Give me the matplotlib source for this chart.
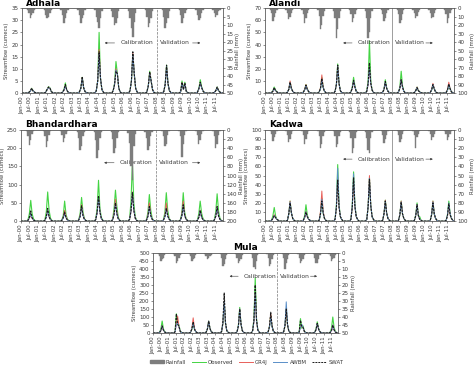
import matplotlib
matplotlib.use('Agg')
import matplotlib.pyplot as plt
from matplotlib.lines import Line2D
from matplotlib.patches import Patch
import numpy as np

plt.rcParams['font.family'] = ['DejaVu Sans']

# ── data: monthly streamflow, Jun..Nov per year 2000-2011 (other months ~0) ──
years = list(range(2000, 2012))
tick_labels = [f'{m}-{y % 100:02d}' for y in years for m in ('Jan', 'Jul')]

adhala_obs  = [[0.3, 0.8, 2.0, 1.0, 0.4, 0.1], [0.4, 1.5, 2.6, 2.2, 0.6, 0.2], [0.4, 1.5, 4.2, 1.2, 0.4, 0.1],
               [0.5, 2.0, 6.5, 2.2, 0.6, 0.2], [1.0, 5.0, 25.0, 6.0, 1.5, 0.4], [1.0, 4.0, 13.0, 8.0, 2.0, 0.5],
               [1.0, 5.0, 16.0, 8.0, 2.0, 0.5], [0.5, 3.0, 9.0, 5.0, 1.5, 0.3], [0.6, 3.5, 11.5, 4.0, 1.0, 0.3],
               [0.5, 5.0, 1.5, 4.5, 0.8, 0.2], [0.4, 2.0, 5.5, 2.5, 0.8, 0.2], [0.3, 1.0, 2.5, 1.0, 0.4, 0.1]]
adhala_gr4j = [[0.3, 0.8, 1.9, 0.9, 0.4, 0.1], [0.4, 1.4, 2.4, 2.0, 0.6, 0.2], [0.4, 1.2, 3.2, 1.2, 0.4, 0.1],
               [0.5, 2.0, 6.3, 2.2, 0.6, 0.2], [1.0, 5.0, 18.0, 6.0, 1.5, 0.4], [1.0, 3.5, 10.0, 8.0, 2.0, 0.5],
               [1.0, 5.0, 16.5, 8.0, 2.0, 0.5], [0.5, 3.0, 8.5, 5.0, 1.5, 0.3], [0.6, 3.5, 11.0, 4.0, 1.0, 0.3],
               [0.5, 4.2, 1.5, 4.0, 0.8, 0.2], [0.4, 1.8, 4.2, 2.2, 0.8, 0.2], [0.3, 1.0, 2.3, 1.0, 0.4, 0.1]]
adhala_awbm = [[0.3, 0.7, 1.8, 0.9, 0.4, 0.1], [0.4, 1.4, 2.3, 2.0, 0.6, 0.2], [0.4, 1.2, 3.0, 1.2, 0.4, 0.1],
               [0.5, 2.0, 6.0, 2.2, 0.6, 0.2], [1.0, 5.0, 16.0, 6.0, 1.5, 0.4], [1.0, 3.5, 9.5, 8.0, 2.0, 0.5],
               [1.0, 5.0, 16.0, 8.0, 2.0, 0.5], [0.5, 3.0, 8.0, 5.0, 1.5, 0.3], [0.6, 3.5, 11.0, 4.0, 1.0, 0.3],
               [0.5, 4.0, 1.5, 4.0, 0.8, 0.2], [0.4, 1.8, 4.0, 2.2, 0.8, 0.2], [0.3, 1.0, 2.2, 1.0, 0.4, 0.1]]
adhala_swat = [[0.3, 0.8, 2.0, 0.9, 0.4, 0.1], [0.4, 1.5, 2.5, 2.1, 0.6, 0.2], [0.4, 1.3, 3.5, 1.2, 0.4, 0.1],
               [0.5, 2.0, 6.8, 2.2, 0.6, 0.2], [1.0, 5.0, 17.0, 6.0, 1.5, 0.4], [1.0, 3.5, 9.0, 8.0, 2.0, 0.5],
               [1.0, 5.0, 17.0, 8.0, 2.0, 0.5], [0.5, 3.0, 8.8, 5.0, 1.5, 0.3], [0.6, 3.5, 11.5, 4.0, 1.0, 0.3],
               [0.5, 4.5, 1.5, 4.2, 0.8, 0.2], [0.4, 1.8, 4.5, 2.2, 0.8, 0.2], [0.3, 1.0, 2.5, 1.0, 0.4, 0.1]]

alandi_obs  = [[0.5, 2.0, 5.0, 2.5, 1.0, 0.3], [0.8, 3.0, 9.0, 4.0, 1.5, 0.4], [0.8, 3.0, 7.0, 3.5, 1.2, 0.3],
               [1.0, 4.0, 13.0, 5.0, 1.5, 0.4], [1.5, 7.0, 24.0, 8.0, 2.0, 0.5], [1.0, 5.0, 13.0, 6.0, 1.5, 0.4],
               [2.0, 10.0, 43.0, 10.0, 2.5, 0.6], [0.8, 3.0, 11.0, 4.5, 1.5, 0.4], [1.0, 5.0, 18.0, 6.0, 1.5, 0.4],
               [0.5, 2.0, 5.0, 2.0, 1.0, 0.3], [0.6, 2.5, 7.0, 3.5, 1.0, 0.3], [0.6, 2.5, 7.0, 3.5, 1.0, 0.3]]
alandi_gr4j = [[0.5, 1.5, 4.0, 2.0, 1.0, 0.3], [0.8, 3.0, 10.0, 4.0, 1.5, 0.4], [0.8, 3.0, 7.0, 3.5, 1.2, 0.3],
               [1.0, 4.5, 15.0, 5.0, 1.5, 0.4], [1.5, 7.0, 22.0, 8.0, 2.0, 0.5], [1.0, 4.0, 10.0, 5.0, 1.5, 0.4],
               [1.5, 7.0, 20.0, 8.0, 2.5, 0.6], [0.8, 3.0, 9.0, 4.0, 1.5, 0.4], [1.0, 4.0, 11.0, 5.0, 1.5, 0.4],
               [0.5, 2.0, 5.0, 2.0, 1.0, 0.3], [0.6, 3.0, 8.0, 3.5, 1.0, 0.3], [0.6, 3.0, 9.0, 3.5, 1.0, 0.3]]
alandi_awbm = [[0.5, 1.5, 4.0, 2.0, 1.0, 0.3], [0.8, 3.0, 8.5, 3.5, 1.5, 0.4], [0.8, 2.5, 6.0, 3.0, 1.2, 0.3],
               [1.0, 3.5, 11.0, 4.5, 1.5, 0.4], [1.5, 7.0, 22.0, 8.0, 2.0, 0.5], [1.0, 4.0, 10.0, 5.0, 1.5, 0.4],
               [1.5, 7.0, 21.0, 8.0, 2.5, 0.6], [0.8, 3.0, 9.0, 4.0, 1.5, 0.4], [1.0, 4.0, 11.0, 5.0, 1.5, 0.4],
               [0.5, 2.0, 4.5, 2.0, 1.0, 0.3], [0.6, 2.5, 7.0, 3.5, 1.0, 0.3], [0.6, 2.5, 7.0, 3.5, 1.0, 0.3]]
alandi_swat = [[0.5, 1.5, 4.5, 2.0, 1.0, 0.3], [0.8, 3.0, 9.0, 3.5, 1.5, 0.4], [0.8, 2.5, 6.5, 3.0, 1.2, 0.3],
               [1.0, 4.0, 12.0, 4.5, 1.5, 0.4], [1.5, 7.0, 23.0, 8.0, 2.0, 0.5], [1.0, 4.0, 10.5, 5.0, 1.5, 0.4],
               [1.5, 8.0, 25.0, 8.0, 2.5, 0.6], [0.8, 3.0, 9.5, 4.0, 1.5, 0.4], [1.0, 4.0, 11.0, 5.0, 1.5, 0.4],
               [0.5, 2.0, 4.5, 2.0, 1.0, 0.3], [0.6, 2.5, 7.0, 3.5, 1.0, 0.3], [0.6, 2.5, 7.5, 3.5, 1.0, 0.3]]

bhand_obs  = [[3, 20, 57, 20, 6, 2], [4, 25, 80, 30, 8, 2], [3, 15, 55, 18, 5, 2],
              [4, 22, 65, 25, 7, 2], [5, 35, 112, 35, 10, 3], [5, 35, 85, 40, 10, 3],
              [6, 55, 160, 50, 12, 3], [4, 25, 73, 30, 8, 2], [4, 25, 78, 30, 8, 2],
              [4, 22, 78, 25, 7, 2], [3, 20, 55, 22, 7, 2], [4, 25, 75, 28, 8, 2]]
bhand_gr4j = [[2, 8, 15, 8, 3, 1], [2, 12, 30, 12, 4, 1], [2, 10, 30, 12, 4, 1],
              [3, 15, 45, 18, 5, 2], [4, 22, 65, 25, 7, 2], [4, 22, 60, 25, 7, 2],
              [5, 28, 80, 30, 8, 2], [3, 16, 50, 18, 5, 2], [3, 16, 50, 18, 5, 2],
              [3, 16, 55, 18, 5, 2], [2, 10, 30, 12, 4, 1], [3, 13, 40, 15, 5, 1]]
bhand_awbm = [[2, 8, 20, 8, 3, 1], [2, 10, 30, 12, 4, 1], [2, 8, 20, 9, 3, 1],
              [3, 13, 40, 15, 5, 2], [4, 22, 65, 25, 7, 2], [4, 17, 50, 20, 6, 2],
              [5, 27, 78, 30, 8, 2], [3, 13, 40, 15, 5, 2], [3, 12, 35, 14, 5, 2],
              [3, 13, 42, 15, 5, 2], [2, 10, 28, 11, 4, 1], [3, 13, 38, 14, 5, 1]]
bhand_swat = [[2, 10, 28, 9, 3, 1], [2, 12, 35, 12, 4, 1], [2, 10, 25, 9, 3, 1],
              [3, 13, 42, 15, 5, 2], [4, 24, 70, 25, 7, 2], [4, 17, 50, 20, 6, 2],
              [5, 27, 78, 30, 8, 2], [3, 13, 40, 15, 5, 2], [3, 12, 35, 14, 5, 2],
              [3, 15, 45, 16, 5, 2], [2, 10, 30, 11, 4, 1], [3, 13, 40, 14, 5, 1]]

kadwa_obs  = [[1, 6, 15, 6, 2, 1], [1, 8, 22, 9, 3, 1], [1, 6, 18, 7, 2, 1],
              [1, 9, 25, 9, 3, 1], [2, 17, 62, 18, 5, 2], [2, 17, 54, 18, 5, 2],
              [2, 16, 47, 17, 5, 2], [1, 8, 23, 9, 3, 1], [1, 7, 22, 8, 3, 1],
              [1, 7, 20, 6, 5, 1], [1, 7, 22, 8, 3, 1], [1, 7, 22, 8, 3, 1]]
kadwa_gr4j = [[1, 3, 7, 4, 2, 1], [1, 8, 22, 9, 3, 1], [1, 4, 10, 5, 2, 1],
              [1, 11, 33, 11, 3, 1], [2, 15, 48, 16, 5, 2], [2, 15, 45, 16, 5, 2],
              [2, 16, 50, 17, 5, 2], [1, 8, 23, 9, 3, 1], [1, 7, 22, 8, 3, 1],
              [1, 6, 18, 6, 2, 1], [1, 7, 22, 8, 3, 1], [1, 6, 18, 7, 3, 1]]
kadwa_awbm = [[1, 3, 6, 4, 2, 1], [1, 8, 21, 9, 3, 1], [1, 4, 10, 5, 2, 1],
              [1, 8, 24, 9, 3, 1], [2, 16, 58, 17, 5, 2], [2, 16, 52, 17, 5, 2],
              [2, 16, 47, 17, 5, 2], [1, 8, 22, 9, 3, 1], [1, 7, 21, 8, 3, 1],
              [1, 6, 18, 6, 2, 1], [1, 7, 21, 8, 3, 1], [1, 7, 20, 8, 3, 1]]
kadwa_swat = [[1, 3, 6, 4, 2, 1], [1, 8, 20, 9, 3, 1], [1, 4, 10, 5, 2, 1],
              [1, 8, 22, 9, 3, 1], [2, 14, 45, 15, 5, 2], [2, 15, 48, 16, 5, 2],
              [2, 16, 46, 17, 5, 2], [1, 8, 22, 9, 3, 1], [1, 7, 21, 8, 3, 1],
              [1, 6, 18, 6, 2, 1], [1, 7, 20, 8, 3, 1], [1, 6, 19, 7, 3, 1]]

mula_obs  = [[5, 25, 75, 25, 8, 3], [10, 120, 60, 50, 12, 4], [5, 25, 60, 25, 8, 3],
             [5, 25, 75, 28, 8, 3], [10, 60, 195, 60, 15, 5], [10, 50, 160, 55, 15, 5],
             [15, 90, 345, 90, 20, 6], [8, 40, 110, 45, 12, 4], [8, 45, 150, 50, 12, 4],
             [8, 90, 30, 45, 12, 4], [5, 25, 70, 30, 8, 3], [6, 30, 100, 35, 10, 3]]
mula_gr4j = [[4, 15, 45, 18, 6, 2], [8, 60, 105, 40, 10, 3], [5, 30, 95, 30, 8, 3],
             [5, 25, 75, 28, 8, 3], [10, 60, 200, 60, 15, 5], [10, 45, 150, 55, 15, 5],
             [15, 70, 250, 80, 20, 6], [8, 40, 120, 45, 12, 4], [8, 45, 150, 50, 12, 4],
             [6, 40, 45, 35, 10, 3], [5, 20, 60, 25, 8, 3], [4, 15, 50, 20, 6, 2]]
mula_awbm = [[4, 15, 45, 18, 6, 2], [8, 55, 60, 40, 10, 3], [5, 25, 60, 25, 8, 3],
             [5, 25, 75, 28, 8, 3], [10, 60, 200, 60, 15, 5], [10, 45, 150, 55, 15, 5],
             [15, 70, 250, 80, 20, 6], [8, 35, 100, 40, 12, 4], [8, 50, 195, 55, 12, 4],
             [6, 35, 55, 35, 10, 3], [5, 20, 60, 25, 8, 3], [4, 15, 50, 20, 6, 2]]
mula_swat = [[4, 15, 45, 18, 6, 2], [8, 120, 55, 40, 10, 3], [5, 25, 70, 25, 8, 3],
             [5, 25, 75, 28, 8, 3], [10, 70, 250, 65, 15, 5], [10, 45, 150, 55, 15, 5],
             [15, 80, 300, 80, 20, 6], [8, 40, 130, 45, 12, 4], [8, 45, 150, 50, 12, 4],
             [6, 80, 40, 35, 10, 3], [5, 20, 60, 25, 8, 3], [4, 15, 50, 20, 6, 2]]

# ── monthly rainfall, May..Oct per year ──
adhala_rain = [[1, 3, 6, 4, 3, 1], [1, 4, 6, 5, 3, 1], [1, 4, 9, 6, 3, 1], [1, 4, 9, 6, 4, 1],
               [1, 5, 8, 12, 6, 2], [2, 5, 10, 9, 6, 2], [2, 6, 12, 17, 8, 3], [1, 5, 11, 9, 6, 2],
               [1, 5, 12, 9, 6, 2], [1, 4, 9, 6, 3, 1], [1, 4, 7, 6, 3, 1], [1, 3, 5, 4, 2, 1]]
alandi_rain = [[2, 6, 15, 10, 6, 2], [2, 6, 13, 10, 6, 2], [2, 7, 17, 12, 6, 2], [2, 9, 25, 20, 9, 3],
               [3, 12, 35, 25, 12, 3], [2, 7, 16, 12, 7, 2], [3, 12, 35, 28, 12, 3], [2, 7, 15, 12, 6, 2],
               [2, 7, 18, 14, 7, 2], [2, 6, 12, 9, 5, 2], [2, 6, 12, 10, 6, 2], [2, 7, 18, 12, 6, 2]]
bhand_rain  = [[3, 14, 32, 22, 10, 3], [3, 14, 37, 25, 12, 3], [3, 12, 27, 18, 10, 3], [4, 17, 45, 35, 14, 4],
               [5, 22, 62, 45, 18, 5], [5, 20, 50, 40, 18, 5], [6, 28, 80, 110, 35, 8], [4, 17, 45, 35, 14, 4],
               [3, 14, 35, 30, 12, 3], [3, 14, 60, 30, 12, 3], [3, 12, 30, 22, 10, 3], [3, 14, 40, 30, 12, 3]]
kadwa_rain  = [[1, 5, 12, 8, 5, 1], [1, 6, 13, 10, 5, 1], [1, 6, 15, 10, 5, 1], [1, 7, 20, 15, 7, 2],
               [1, 7, 19, 15, 7, 2], [2, 9, 25, 20, 9, 2], [2, 9, 22, 25, 9, 2], [1, 6, 14, 10, 6, 1],
               [1, 6, 13, 10, 5, 1], [1, 6, 20, 8, 5, 1], [1, 5, 11, 8, 5, 1], [1, 5, 11, 8, 5, 1]]
mula_rain   = [[0.5, 2, 5, 4, 3, 1], [0.5, 2, 6, 5, 3, 1], [0.5, 2, 5, 4, 3, 1], [0.5, 2, 4, 3, 2, 1],
               [0.5, 3, 8, 7, 4, 1], [0.5, 3, 6, 5, 4, 1], [0.5, 3, 9, 10, 5, 1], [0.5, 3, 8, 7, 4, 1],
               [0.5, 3, 10, 6, 4, 1], [0.5, 3, 6, 5, 4, 1], [0.5, 3, 6, 6, 4, 1], [0.5, 2, 5, 4, 3, 1]]

C_OBS, C_GR4J, C_AWBM, C_SWAT, C_RAIN = '#44d444', '#e8605a', '#5a8fc8', '#1a1a1a', '#7d7d7d'
C_TXT = '#3a3a3a'


def to_monthly(per_year, first_month):
    series = np.zeros(12 * len(years))
    for yi, vals in enumerate(per_year):
        for k, v in enumerate(vals):
            series[12 * yi + first_month + k] = v
    return series


def draw_panel(rect, title, obs, gr4j, awbm, swat, rain, qmax, qstep, rmax, rstep,
               split_ls, title_centered=False, arrow_y=0.55):
    ax = fig.add_axes(rect)
    months = np.arange(12 * len(years))
    ax.plot(months, to_monthly(obs, 5), color=C_OBS, lw=0.8, zorder=3)
    ax.plot(months, to_monthly(gr4j, 5), color=C_GR4J, lw=0.7, zorder=4)
    ax.plot(months, to_monthly(awbm, 5), color=C_AWBM, lw=0.7, zorder=4)
    ax.plot(months, to_monthly(swat, 5), color=C_SWAT, lw=0.8, ls=(0, (2, 1)), zorder=5)
    ax.set_xlim(0, 143)
    ax.set_ylim(0, qmax)
    ax.set_yticks(np.arange(0, qmax + 0.1, qstep))
    ax.set_xticks(np.arange(0, 144, 6))
    ax.set_xticklabels(tick_labels, rotation=90, fontsize=3.8)
    ax.tick_params(axis='both', length=1.5, width=0.4, pad=1, labelsize=4, colors=C_TXT)
    ax.set_ylabel('Streamflow (cumecs)', fontsize=3.8, labelpad=1.5, color=C_TXT)
    for s in ax.spines.values():
        s.set_linewidth(0.4)
        s.set_color('#555555')

    ax2 = ax.twinx()
    ax2.bar(months, to_monthly(rain, 4), width=1.0, color=C_RAIN,
            edgecolor=C_RAIN, linewidth=0.3)
    ax2.set_ylim(rmax, 0)
    ax2.set_yticks(np.arange(0, rmax + 0.1, rstep))
    ax2.tick_params(axis='y', length=1.5, width=0.4, pad=1, labelsize=4, colors=C_TXT)
    ax2.set_ylabel('Rainfall (mm)', fontsize=3.8, labelpad=1.5, color=C_TXT)
    for s in ax2.spines.values():
        s.set_linewidth(0.4)
        s.set_color('#555555')

    ax.axvline(96, color='#777777', lw=0.5, ls=split_ls, zorder=2)
    ay = arrow_y * qmax
    ax.annotate('', xy=(57, ay), xytext=(68, ay),
                arrowprops=dict(arrowstyle='-|>', color=C_TXT, lw=0.4, mutation_scale=3))
    ax.text(70, ay, 'Calibration', fontsize=4.3, va='center', ha='left', color=C_TXT)
    ax.text(98, ay, 'Validation', fontsize=4.3, va='center', ha='left', color=C_TXT)
    ax.annotate('', xy=(129, ay), xytext=(119.5, ay),
                arrowprops=dict(arrowstyle='-|>', color=C_TXT, lw=0.4, mutation_scale=3))

    if title_centered:
        ax.set_title(title, fontsize=6.5, fontweight='bold', pad=2)
    else:
        ax.text(0.02, 1.005, title, transform=ax.transAxes, fontsize=6.5,
                fontweight='bold', ha='left', va='bottom')
    return ax


fig = plt.figure(figsize=(4.74, 3.68), dpi=100, facecolor='white')

draw_panel([0.046, 0.747, 0.424, 0.231], 'Adhala', adhala_obs, adhala_gr4j, adhala_awbm,
           adhala_swat, adhala_rain, 35, 5, 50, 5, '--', arrow_y=0.59)
draw_panel([0.559, 0.747, 0.399, 0.231], 'Alandi', alandi_obs, alandi_gr4j, alandi_awbm,
           alandi_swat, alandi_rain, 70, 10, 100, 10, '-', arrow_y=0.59)
draw_panel([0.044, 0.399, 0.426, 0.248], 'Bhandardhara', bhand_obs, bhand_gr4j, bhand_awbm,
           bhand_swat, bhand_rain, 250, 50, 200, 20, '--', arrow_y=0.64)
draw_panel([0.559, 0.399, 0.399, 0.248], 'Kadwa', kadwa_obs, kadwa_gr4j, kadwa_awbm,
           kadwa_swat, kadwa_rain, 100, 10, 100, 10, '-', arrow_y=0.68)
draw_panel([0.323, 0.095, 0.39, 0.2175], 'Mula', mula_obs, mula_gr4j, mula_awbm,
           mula_swat, mula_rain, 500, 50, 50, 5, '--', title_centered=True, arrow_y=0.71)

handles = [
    Patch(facecolor=C_RAIN, edgecolor=C_RAIN, hatch='|||||', label='Rainfall'),
    Line2D([0], [0], color=C_OBS, lw=0.7, label='Observed'),
    Line2D([0], [0], color=C_GR4J, lw=0.7, label='GR4J'),
    Line2D([0], [0], color=C_AWBM, lw=0.7, label='AWBM'),
    Line2D([0], [0], color=C_SWAT, lw=0.7, ls=(0, (2, 1)), label='SWAT'),
]
fig.legend(handles=handles, loc='center', bbox_to_anchor=(0.52, 0.016), ncol=5,
           fontsize=3.9, frameon=False, handlelength=2.6, handletextpad=0.4,
           columnspacing=1.0, handleheight=0.6, labelcolor=C_TXT)

plt.savefig('out.png', dpi=100, facecolor='white')
plt.close()
